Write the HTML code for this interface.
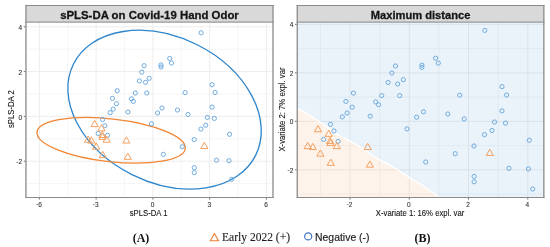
<!DOCTYPE html>
<html><head><meta charset="utf-8"><title>sPLS-DA on Covid-19 Hand Odor</title><style>
html,body{margin:0;padding:0;background:#fff;width:550px;height:247px;overflow:hidden}
svg{display:block}
</style></head><body>
<svg width="550" height="247" viewBox="0 0 550 247">
<rect width="550" height="247" fill="#fff"/>
<line x1="67.76" y1="22.05" x2="67.76" y2="197.5" stroke="#F2F2F2" stroke-width="0.8"/>
<line x1="124.52" y1="22.05" x2="124.52" y2="197.5" stroke="#F2F2F2" stroke-width="0.8"/>
<line x1="181.28" y1="22.05" x2="181.28" y2="197.5" stroke="#F2F2F2" stroke-width="0.8"/>
<line x1="238.04" y1="22.05" x2="238.04" y2="197.5" stroke="#F2F2F2" stroke-width="0.8"/>
<line x1="25.95" y1="183.6" x2="273" y2="183.6" stroke="#F2F2F2" stroke-width="0.8"/>
<line x1="25.95" y1="138.8" x2="273" y2="138.8" stroke="#F2F2F2" stroke-width="0.8"/>
<line x1="25.95" y1="94" x2="273" y2="94" stroke="#F2F2F2" stroke-width="0.8"/>
<line x1="25.95" y1="49.2" x2="273" y2="49.2" stroke="#F2F2F2" stroke-width="0.8"/>
<line x1="39.38" y1="22.05" x2="39.38" y2="197.5" stroke="#EDEDED" stroke-width="1.0"/>
<line x1="96.14" y1="22.05" x2="96.14" y2="197.5" stroke="#EDEDED" stroke-width="1.0"/>
<line x1="152.9" y1="22.05" x2="152.9" y2="197.5" stroke="#EDEDED" stroke-width="1.0"/>
<line x1="209.66" y1="22.05" x2="209.66" y2="197.5" stroke="#EDEDED" stroke-width="1.0"/>
<line x1="266.42" y1="22.05" x2="266.42" y2="197.5" stroke="#EDEDED" stroke-width="1.0"/>
<line x1="25.95" y1="161.2" x2="273" y2="161.2" stroke="#EDEDED" stroke-width="1.0"/>
<line x1="25.95" y1="116.4" x2="273" y2="116.4" stroke="#EDEDED" stroke-width="1.0"/>
<line x1="25.95" y1="71.6" x2="273" y2="71.6" stroke="#EDEDED" stroke-width="1.0"/>
<line x1="25.95" y1="26.8" x2="273" y2="26.8" stroke="#EDEDED" stroke-width="1.0"/>
<ellipse cx="164.56" cy="109.7" rx="101.88" ry="72.62" transform="rotate(26.64 164.56 109.7)" fill="none" stroke="#2D85CC" stroke-width="1.3"/>
<ellipse cx="111.14" cy="140.32" rx="74.59" ry="21.41" transform="rotate(6.32 111.14 140.32)" fill="none" stroke="#F28532" stroke-width="1.3"/>
<g fill="none" stroke="#70ACE0" stroke-width="1.0">
<circle cx="201.12" cy="32.79" r="2.1"/>
<circle cx="169.71" cy="58.47" r="2.1"/>
<circle cx="171.44" cy="62.99" r="2.1"/>
<circle cx="160.97" cy="64.93" r="2.1"/>
<circle cx="160.97" cy="66.97" r="2.1"/>
<circle cx="144.11" cy="65.67" r="2.1"/>
<circle cx="141.81" cy="72.14" r="2.1"/>
<circle cx="139.39" cy="80.91" r="2.1"/>
<circle cx="145.52" cy="82.3" r="2.1"/>
<circle cx="149.16" cy="78.33" r="2.1"/>
<circle cx="117.23" cy="90.71" r="2.1"/>
<circle cx="135.3" cy="93.01" r="2.1"/>
<circle cx="146.79" cy="93.01" r="2.1"/>
<circle cx="185.1" cy="92.64" r="2.1"/>
<circle cx="112.45" cy="98.37" r="2.1"/>
<circle cx="131.41" cy="98.83" r="2.1"/>
<circle cx="133.32" cy="101.42" r="2.1"/>
<circle cx="116.47" cy="103.73" r="2.1"/>
<circle cx="113.21" cy="109.09" r="2.1"/>
<circle cx="110.15" cy="112.69" r="2.1"/>
<circle cx="127.96" cy="112.04" r="2.1"/>
<circle cx="157.58" cy="112.97" r="2.1"/>
<circle cx="161.99" cy="107.98" r="2.1"/>
<circle cx="177.5" cy="110.01" r="2.1"/>
<circle cx="187.97" cy="114.54" r="2.1"/>
<circle cx="151.45" cy="123.77" r="2.1"/>
<circle cx="212.11" cy="84.7" r="2.1"/>
<circle cx="215.04" cy="92.46" r="2.1"/>
<circle cx="212.11" cy="107.15" r="2.1"/>
<circle cx="207.32" cy="117.4" r="2.1"/>
<circle cx="214.34" cy="118.42" r="2.1"/>
<circle cx="205.72" cy="125.25" r="2.1"/>
<circle cx="200.93" cy="129.04" r="2.1"/>
<circle cx="229.53" cy="134.3" r="2.1"/>
<circle cx="194.23" cy="139.57" r="2.1"/>
<circle cx="182.23" cy="146.68" r="2.1"/>
<circle cx="163.39" cy="154.35" r="2.1"/>
<circle cx="216.51" cy="160.17" r="2.1"/>
<circle cx="228.96" cy="160.72" r="2.1"/>
<circle cx="194.29" cy="167.65" r="2.1"/>
<circle cx="194.29" cy="172.64" r="2.1"/>
<circle cx="231.71" cy="179.29" r="2.1"/>
<circle cx="102.61" cy="119.52" r="2.1"/>
<circle cx="104.85" cy="125.71" r="2.1"/>
<circle cx="98.21" cy="133.47" r="2.1"/>
<circle cx="107.47" cy="135.32" r="2.1"/>
</g>
<g fill="none" stroke="#F4A060" stroke-width="1.0">
<path d="M94.63 120.42L98.23 126.62L91.03 126.62Z"/>
<path d="M101.46 124.67L105.06 130.87L97.86 130.87Z"/>
<path d="M102.36 131.32L105.96 137.52L98.76 137.52Z"/>
<path d="M102.61 133.17L106.21 139.37L99.01 139.37Z"/>
<path d="M88.06 136.03L91.66 142.23L84.46 142.23Z"/>
<path d="M91.31 136.86L94.91 143.06L87.71 143.06Z"/>
<path d="M106.64 136.03L110.24 142.23L103.04 142.23Z"/>
<path d="M96.17 142.96L99.77 149.16L92.57 149.16Z"/>
<path d="M102.81 151.45L106.41 157.65L99.21 157.65Z"/>
<path d="M126.36 136.86L129.96 143.06L122.76 143.06Z"/>
<path d="M127.77 153.12L131.37 159.32L124.17 159.32Z"/>
<path d="M204.32 142.31L207.92 148.51L200.72 148.51Z"/>
</g>
<rect x="25.95" y="5.5" width="247.05" height="16.55" fill="#D9D9D9"/>
<text x="149.47" y="18.75" text-anchor="middle" font-family="Liberation Sans, Arial, sans-serif" font-weight="bold" font-size="11.4" fill="#141414" stroke="#141414" stroke-width="0.28">sPLS-DA on Covid-19 Hand Odor</text>
<line x1="25.3" y1="5.5" x2="273.65" y2="5.5" stroke="#8A8A8A" stroke-width="1.0"/>
<line x1="25.3" y1="22.05" x2="273.65" y2="22.05" stroke="#989898" stroke-width="1.2"/>
<line x1="25.3" y1="197.5" x2="273.65" y2="197.5" stroke="#8A8A8A" stroke-width="1.1"/>
<line x1="25.95" y1="5" x2="25.95" y2="198.05" stroke="#8A8A8A" stroke-width="1.3"/>
<line x1="273" y1="5" x2="273" y2="198.05" stroke="#8A8A8A" stroke-width="1.3"/>
<line x1="39.38" y1="198" x2="39.38" y2="199.5" stroke="#6E6E6E" stroke-width="1.0"/>
<text x="38.98" y="206.5" text-anchor="middle" font-family="Liberation Sans, Arial, sans-serif" font-size="6.5" fill="#333333" stroke="#333333" stroke-width="0.1"><tspan dy="-0.8">-</tspan><tspan dy="0.8">6</tspan></text>
<line x1="96.14" y1="198" x2="96.14" y2="199.5" stroke="#6E6E6E" stroke-width="1.0"/>
<text x="95.74" y="206.5" text-anchor="middle" font-family="Liberation Sans, Arial, sans-serif" font-size="6.5" fill="#333333" stroke="#333333" stroke-width="0.1"><tspan dy="-0.8">-</tspan><tspan dy="0.8">3</tspan></text>
<line x1="152.9" y1="198" x2="152.9" y2="199.5" stroke="#6E6E6E" stroke-width="1.0"/>
<text x="152.5" y="206.5" text-anchor="middle" font-family="Liberation Sans, Arial, sans-serif" font-size="6.5" fill="#333333" stroke="#333333" stroke-width="0.1">0</text>
<line x1="209.66" y1="198" x2="209.66" y2="199.5" stroke="#6E6E6E" stroke-width="1.0"/>
<text x="209.26" y="206.5" text-anchor="middle" font-family="Liberation Sans, Arial, sans-serif" font-size="6.5" fill="#333333" stroke="#333333" stroke-width="0.1">3</text>
<line x1="266.42" y1="198" x2="266.42" y2="199.5" stroke="#6E6E6E" stroke-width="1.0"/>
<text x="266.02" y="206.5" text-anchor="middle" font-family="Liberation Sans, Arial, sans-serif" font-size="6.5" fill="#333333" stroke="#333333" stroke-width="0.1">6</text>
<line x1="23.75" y1="161.2" x2="25.35" y2="161.2" stroke="#6E6E6E" stroke-width="1.0"/>
<text x="22.05" y="164.3" text-anchor="end" font-family="Liberation Sans, Arial, sans-serif" font-size="6.5" fill="#333333" stroke="#333333" stroke-width="0.1"><tspan dy="-0.8">-</tspan><tspan dy="0.8">2</tspan></text>
<line x1="23.75" y1="116.4" x2="25.35" y2="116.4" stroke="#6E6E6E" stroke-width="1.0"/>
<text x="22.05" y="119.5" text-anchor="end" font-family="Liberation Sans, Arial, sans-serif" font-size="6.5" fill="#333333" stroke="#333333" stroke-width="0.1">0</text>
<line x1="23.75" y1="71.6" x2="25.35" y2="71.6" stroke="#6E6E6E" stroke-width="1.0"/>
<text x="22.05" y="74.7" text-anchor="end" font-family="Liberation Sans, Arial, sans-serif" font-size="6.5" fill="#333333" stroke="#333333" stroke-width="0.1">2</text>
<line x1="23.75" y1="26.8" x2="25.35" y2="26.8" stroke="#6E6E6E" stroke-width="1.0"/>
<text x="22.05" y="29.9" text-anchor="end" font-family="Liberation Sans, Arial, sans-serif" font-size="6.5" fill="#333333" stroke="#333333" stroke-width="0.1">4</text>
<text transform="translate(148.6 215.8) scale(1 1.1)" text-anchor="middle" font-family="Liberation Sans, Arial, sans-serif" font-size="7.75" fill="#111" stroke="#111" stroke-width="0.08">sPLS-DA 1</text>
<text transform="translate(13.5 109.1) rotate(-90) scale(1 1.1)" text-anchor="middle" font-family="Liberation Sans, Arial, sans-serif" font-size="7.75" fill="#111" stroke="#111" stroke-width="0.08">sPLS-DA 2</text>
<line x1="320.36" y1="22.05" x2="320.36" y2="197.5" stroke="#F2F2F2" stroke-width="0.8"/>
<line x1="379.63" y1="22.05" x2="379.63" y2="197.5" stroke="#F2F2F2" stroke-width="0.8"/>
<line x1="438.9" y1="22.05" x2="438.9" y2="197.5" stroke="#F2F2F2" stroke-width="0.8"/>
<line x1="498.17" y1="22.05" x2="498.17" y2="197.5" stroke="#F2F2F2" stroke-width="0.8"/>
<line x1="297.25" y1="194.1" x2="543.85" y2="194.1" stroke="#F2F2F2" stroke-width="0.8"/>
<line x1="297.25" y1="145.6" x2="543.85" y2="145.6" stroke="#F2F2F2" stroke-width="0.8"/>
<line x1="297.25" y1="97.1" x2="543.85" y2="97.1" stroke="#F2F2F2" stroke-width="0.8"/>
<line x1="297.25" y1="48.6" x2="543.85" y2="48.6" stroke="#F2F2F2" stroke-width="0.8"/>
<line x1="350" y1="22.05" x2="350" y2="197.5" stroke="#EDEDED" stroke-width="1.0"/>
<line x1="409.26" y1="22.05" x2="409.26" y2="197.5" stroke="#EDEDED" stroke-width="1.0"/>
<line x1="468.53" y1="22.05" x2="468.53" y2="197.5" stroke="#EDEDED" stroke-width="1.0"/>
<line x1="527.8" y1="22.05" x2="527.8" y2="197.5" stroke="#EDEDED" stroke-width="1.0"/>
<line x1="297.25" y1="169.85" x2="543.85" y2="169.85" stroke="#EDEDED" stroke-width="1.0"/>
<line x1="297.25" y1="121.35" x2="543.85" y2="121.35" stroke="#EDEDED" stroke-width="1.0"/>
<line x1="297.25" y1="72.85" x2="543.85" y2="72.85" stroke="#EDEDED" stroke-width="1.0"/>
<line x1="297.25" y1="24.35" x2="543.85" y2="24.35" stroke="#EDEDED" stroke-width="1.0"/>
<polygon points="297.2,108.16 302.2,110.91 307.2,113.78 312.2,117.06 317.2,120.23 322.2,123.52 327.2,127.18 332.2,131.1 337.2,134.32 342.2,136.94 347.2,139.68 352.2,142.42 357.2,144.8 362.2,147.98 367.2,151.94 372.2,155.32 377.2,158.41 382.2,161.02 387.2,163.56 392.2,166.43 397.2,169.5 402.2,172.9 407.2,176.1 412.2,179.4 417.2,182.26 422.2,185.19 427.2,188.46 432.2,192.2 436,194.84 439.2,197.3 543.85,197.5 543.85,22.05 297.25,22.05" fill="#388ECC" fill-opacity="0.105"/>
<polygon points="297.2,108.16 302.2,110.91 307.2,113.78 312.2,117.06 317.2,120.23 322.2,123.52 327.2,127.18 332.2,131.1 337.2,134.32 342.2,136.94 347.2,139.68 352.2,142.42 357.2,144.8 362.2,147.98 367.2,151.94 372.2,155.32 377.2,158.41 382.2,161.02 387.2,163.56 392.2,166.43 397.2,169.5 402.2,172.9 407.2,176.1 412.2,179.4 417.2,182.26 422.2,185.19 427.2,188.46 432.2,192.2 436,194.84 439.2,197.3 297.25,197.5" fill="#F68B33" fill-opacity="0.1"/>
<polyline points="297.2,108.16 302.2,110.91 307.2,113.78 312.2,117.06 317.2,120.23 322.2,123.52 327.2,127.18 332.2,131.1 337.2,134.32 342.2,136.94 347.2,139.68 352.2,142.42 357.2,144.8 362.2,147.98 367.2,151.94 372.2,155.32 377.2,158.41 382.2,161.02 387.2,163.56 392.2,166.43 397.2,169.5 402.2,172.9 407.2,176.1 412.2,179.4 417.2,182.26 422.2,185.19 427.2,188.46 432.2,192.2 436,194.84 439.2,197.3" fill="none" stroke="#fff" stroke-width="1.4"/>
<g fill="none" stroke="#70ACE0" stroke-width="1.0">
<circle cx="484.8" cy="30.4" r="2.1"/>
<circle cx="435.6" cy="58.2" r="2.1"/>
<circle cx="438.3" cy="63.1" r="2.1"/>
<circle cx="421.9" cy="65.2" r="2.1"/>
<circle cx="421.9" cy="67.4" r="2.1"/>
<circle cx="395.5" cy="66" r="2.1"/>
<circle cx="391.9" cy="73" r="2.1"/>
<circle cx="388.1" cy="82.5" r="2.1"/>
<circle cx="397.7" cy="84" r="2.1"/>
<circle cx="403.4" cy="79.7" r="2.1"/>
<circle cx="353.4" cy="93.1" r="2.1"/>
<circle cx="381.7" cy="95.6" r="2.1"/>
<circle cx="399.7" cy="95.6" r="2.1"/>
<circle cx="459.7" cy="95.2" r="2.1"/>
<circle cx="345.9" cy="101.4" r="2.1"/>
<circle cx="375.6" cy="101.9" r="2.1"/>
<circle cx="378.6" cy="104.7" r="2.1"/>
<circle cx="352.2" cy="107.2" r="2.1"/>
<circle cx="347.1" cy="113" r="2.1"/>
<circle cx="342.3" cy="116.9" r="2.1"/>
<circle cx="370.2" cy="116.2" r="2.1"/>
<circle cx="416.6" cy="117.2" r="2.1"/>
<circle cx="423.5" cy="111.8" r="2.1"/>
<circle cx="447.8" cy="114" r="2.1"/>
<circle cx="464.2" cy="118.9" r="2.1"/>
<circle cx="407" cy="128.9" r="2.1"/>
<circle cx="502" cy="86.6" r="2.1"/>
<circle cx="506.6" cy="95" r="2.1"/>
<circle cx="502" cy="110.9" r="2.1"/>
<circle cx="494.5" cy="122" r="2.1"/>
<circle cx="505.5" cy="123.1" r="2.1"/>
<circle cx="492" cy="130.5" r="2.1"/>
<circle cx="484.5" cy="134.6" r="2.1"/>
<circle cx="529.3" cy="140.3" r="2.1"/>
<circle cx="474" cy="146" r="2.1"/>
<circle cx="455.2" cy="153.7" r="2.1"/>
<circle cx="425.7" cy="162" r="2.1"/>
<circle cx="508.9" cy="168.3" r="2.1"/>
<circle cx="528.4" cy="168.9" r="2.1"/>
<circle cx="474.1" cy="176.4" r="2.1"/>
<circle cx="474.1" cy="181.8" r="2.1"/>
<circle cx="532.7" cy="189" r="2.1"/>
<circle cx="330.5" cy="124.3" r="2.1"/>
<circle cx="334" cy="131" r="2.1"/>
<circle cx="323.6" cy="139.4" r="2.1"/>
<circle cx="338.1" cy="141.4" r="2.1"/>
</g>
<g fill="none" stroke="#F4A060" stroke-width="1.0">
<path d="M318 125.57L321.6 131.77L314.4 131.77Z"/>
<path d="M328.7 130.17L332.3 136.37L325.1 136.37Z"/>
<path d="M330.1 137.37L333.7 143.57L326.5 143.57Z"/>
<path d="M330.5 139.37L334.1 145.57L326.9 145.57Z"/>
<path d="M307.7 142.47L311.3 148.67L304.1 148.67Z"/>
<path d="M312.8 143.37L316.4 149.57L309.2 149.57Z"/>
<path d="M336.8 142.47L340.4 148.67L333.2 148.67Z"/>
<path d="M320.4 149.97L324 156.17L316.8 156.17Z"/>
<path d="M330.8 159.17L334.4 165.37L327.2 165.37Z"/>
<path d="M367.7 143.37L371.3 149.57L364.1 149.57Z"/>
<path d="M369.9 160.97L373.5 167.17L366.3 167.17Z"/>
<path d="M489.8 149.27L493.4 155.47L486.2 155.47Z"/>
</g>
<rect x="297.25" y="5.5" width="246.6" height="16.55" fill="#D9D9D9"/>
<text x="420.55" y="18.75" text-anchor="middle" font-family="Liberation Sans, Arial, sans-serif" font-weight="bold" font-size="11.15" fill="#141414" stroke="#141414" stroke-width="0.28">Maximum distance</text>
<line x1="296.6" y1="5.5" x2="544.5" y2="5.5" stroke="#8A8A8A" stroke-width="1.0"/>
<line x1="296.6" y1="22.05" x2="544.5" y2="22.05" stroke="#989898" stroke-width="1.2"/>
<line x1="296.6" y1="197.5" x2="544.5" y2="197.5" stroke="#8A8A8A" stroke-width="1.1"/>
<line x1="297.25" y1="5" x2="297.25" y2="198.05" stroke="#8A8A8A" stroke-width="1.3"/>
<line x1="543.85" y1="5" x2="543.85" y2="198.05" stroke="#8A8A8A" stroke-width="1.3"/>
<line x1="350" y1="198" x2="350" y2="199.5" stroke="#6E6E6E" stroke-width="1.0"/>
<text x="349.6" y="206.5" text-anchor="middle" font-family="Liberation Sans, Arial, sans-serif" font-size="6.5" fill="#333333" stroke="#333333" stroke-width="0.1"><tspan dy="-0.8">-</tspan><tspan dy="0.8">2</tspan></text>
<line x1="409.26" y1="198" x2="409.26" y2="199.5" stroke="#6E6E6E" stroke-width="1.0"/>
<text x="408.87" y="206.5" text-anchor="middle" font-family="Liberation Sans, Arial, sans-serif" font-size="6.5" fill="#333333" stroke="#333333" stroke-width="0.1">0</text>
<line x1="468.53" y1="198" x2="468.53" y2="199.5" stroke="#6E6E6E" stroke-width="1.0"/>
<text x="468.13" y="206.5" text-anchor="middle" font-family="Liberation Sans, Arial, sans-serif" font-size="6.5" fill="#333333" stroke="#333333" stroke-width="0.1">2</text>
<line x1="527.8" y1="198" x2="527.8" y2="199.5" stroke="#6E6E6E" stroke-width="1.0"/>
<text x="527.4" y="206.5" text-anchor="middle" font-family="Liberation Sans, Arial, sans-serif" font-size="6.5" fill="#333333" stroke="#333333" stroke-width="0.1">4</text>
<line x1="295.05" y1="169.85" x2="296.65" y2="169.85" stroke="#6E6E6E" stroke-width="1.0"/>
<text x="293.35" y="172.95" text-anchor="end" font-family="Liberation Sans, Arial, sans-serif" font-size="6.5" fill="#333333" stroke="#333333" stroke-width="0.1"><tspan dy="-0.8">-</tspan><tspan dy="0.8">2</tspan></text>
<line x1="295.05" y1="121.35" x2="296.65" y2="121.35" stroke="#6E6E6E" stroke-width="1.0"/>
<text x="293.35" y="124.45" text-anchor="end" font-family="Liberation Sans, Arial, sans-serif" font-size="6.5" fill="#333333" stroke="#333333" stroke-width="0.1">0</text>
<line x1="295.05" y1="72.85" x2="296.65" y2="72.85" stroke="#6E6E6E" stroke-width="1.0"/>
<text x="293.35" y="75.95" text-anchor="end" font-family="Liberation Sans, Arial, sans-serif" font-size="6.5" fill="#333333" stroke="#333333" stroke-width="0.1">2</text>
<line x1="295.05" y1="24.35" x2="296.65" y2="24.35" stroke="#6E6E6E" stroke-width="1.0"/>
<text x="293.35" y="27.45" text-anchor="end" font-family="Liberation Sans, Arial, sans-serif" font-size="6.5" fill="#333333" stroke="#333333" stroke-width="0.1">4</text>
<text transform="translate(420.1 215.8) scale(1 1.1)" text-anchor="middle" font-family="Liberation Sans, Arial, sans-serif" font-size="7.75" fill="#111" stroke="#111" stroke-width="0.08">X-variate 1: 16% expl. var</text>
<text transform="translate(285.1 109.5) rotate(-90) scale(1 1.1)" text-anchor="middle" font-family="Liberation Sans, Arial, sans-serif" font-size="7.75" fill="#111" stroke="#111" stroke-width="0.08">X-variate 2: 7% expl. var</text>
<text x="141" y="241.6" text-anchor="middle" font-family="Liberation Serif, Times New Roman, serif" font-weight="bold" font-size="12" fill="#111">(A)</text>
<path d="M214.4 233.6L218.5 240.8L210.3 240.8Z" fill="none" stroke="#ED7D31" stroke-width="1.1"/>
<text x="222" y="240.8" font-family="Liberation Serif, Times New Roman, serif" font-size="11.55" fill="#1E1E1E" stroke="#1E1E1E" stroke-width="0.12">Early 2022 (+)</text>
<circle cx="308.2" cy="236.4" r="3.55" fill="none" stroke="#4472C4" stroke-width="1.2"/>
<text x="315" y="240.5" font-family="Liberation Sans, Arial, sans-serif" font-size="10.45" fill="#1E1E1E" stroke="#1E1E1E" stroke-width="0.18">Negative (-)</text>
<text x="422.6" y="241.6" text-anchor="middle" font-family="Liberation Serif, Times New Roman, serif" font-weight="bold" font-size="12" fill="#111">(B)</text>
</svg></body></html>
